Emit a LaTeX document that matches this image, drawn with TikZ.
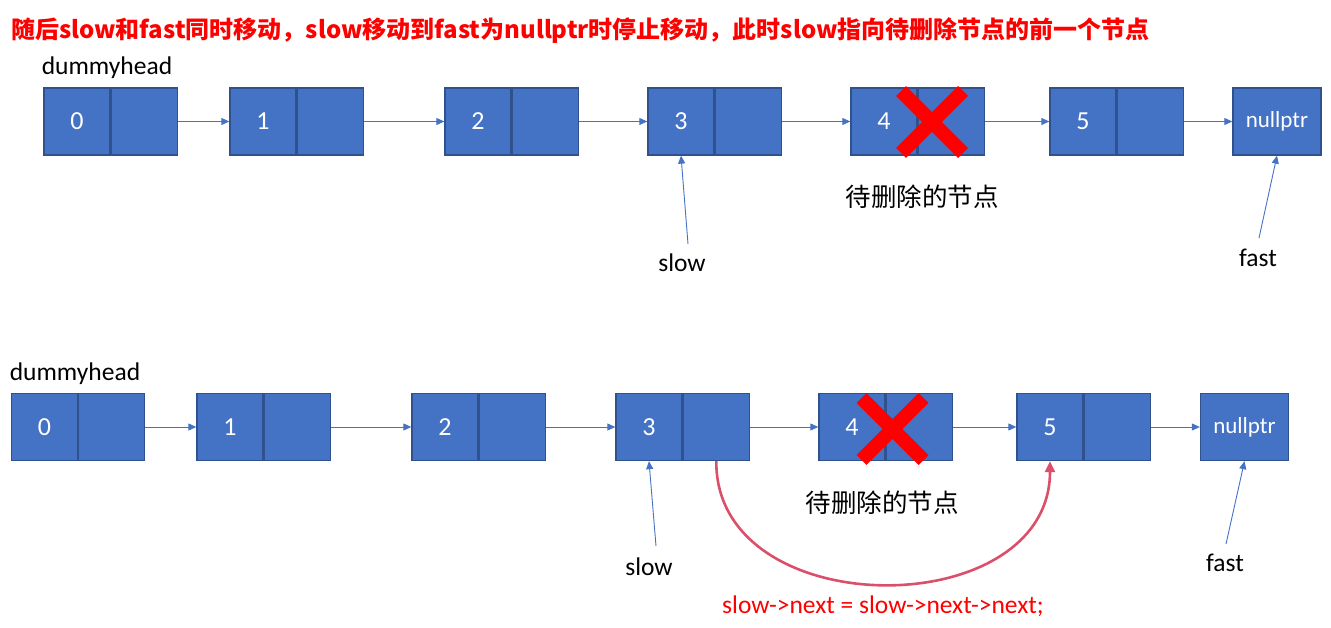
\documentclass[tikz,border=0pt]{standalone}
\usepackage{fontspec}
\setmainfont{Carlito}
\newfontfamily\cjk{Noto Sans CJK SC}
\usetikzlibrary{arrows.meta}
\definecolor{boxfill}{HTML}{4472C4}
\definecolor{boxline}{HTML}{2F528F}
\definecolor{curvered}{HTML}{DC4F6A}
\tikzset{
  cell/.style={draw=boxline, fill=boxfill, line width=1.3pt, minimum width=66pt, minimum height=67pt, inner sep=0pt, text=white, font=\fontsize{26}{30}\selectfont},
  nullbox/.style={cell, minimum width=88pt, font=\fontsize{23}{27}\selectfont},
  arr/.style={draw=boxfill, line width=0.9pt, -{Triangle[length=8pt,width=7pt]}},
  lbl/.style={font=\fontsize{25.5}{30}\selectfont, inner sep=0pt},
  cjklbl/.style={font=\cjk\fontsize{25.5}{30}\selectfont, inner sep=0pt},
  cross/.style={draw=red, line width=14pt},
  redarr/.style={draw=curvered, line width=2.6pt, -{Triangle[length=11pt,width=10pt]}}
}
\begin{document}
\begin{tikzpicture}[x=1pt,y=-1pt]
\useasboundingbox (0,0) rectangle (1331,627);
% title
\node[anchor=west, inner sep=0pt, text=red, font=\cjk\bfseries\fontsize{24}{28}\selectfont] (title) at (11,31)
  {随后slow和fast同时移动，slow移动到fast为nullptr时停止移动，此时slow指向待删除节点的前一个节点};
% ---------- row 1 ----------
\node[lbl] (dh1) at (107,68) {dummyhead};
\foreach \i/\x in {0/77,1/263,2/478,3/681,4/884,5/1083}{
  \node[cell] (a\i) at (\x,121.5) {\i};
  \node[cell, anchor=west] (p\i) at (a\i.east) {};
}
\node[nullbox] (an) at (1277,121.5) {nullptr};
\foreach \i/\j in {0/1,1/2,2/3,3/4,4/5}{
  \draw[arr] (p\i.east) -- (a\j.west);
}
\draw[arr] (p5.east) -- (an.west);
\draw[cross] (901,91) -- (963,153);
\draw[cross] (901,153) -- (963,91);
\node[cjklbl] (del1) at (922,197) {待删除的节点};
\node[lbl] (slow1) at (682,263) {slow};
\coordinate (st1) at (688,244);
\draw[arr] (st1) -- (a3.south);
\node[lbl] (fast1) at (1258,258) {fast};
\coordinate (ft1) at (1259,238);
\draw[arr] (ft1) -- (an.south);
% ---------- row 2 ----------
\node[lbl] (dh2) at (75,374) {dummyhead};
\foreach \i/\x in {0/44.5,1/230,2/445,3/649,4/852,5/1050}{
  \node[cell] (b\i) at (\x,427) {\i};
  \node[cell, anchor=west] (q\i) at (b\i.east) {};
}
\node[nullbox] (bn) at (1244.5,427) {nullptr};
\foreach \i/\j in {0/1,1/2,2/3,3/4,4/5}{
  \draw[arr] (q\i.east) -- (b\j.west);
}
\draw[arr] (q5.east) -- (bn.west);
\draw[cross] (861.5,398) -- (923.5,460);
\draw[cross] (861.5,460) -- (923.5,398);
\node[cjklbl] (del2) at (882,503) {待删除的节点};
\node[lbl] (slow2) at (649,567) {slow};
\coordinate (st2) at (656,546);
\draw[arr] (st2) -- (b3.south);
\node[lbl] (fast2) at (1225,563) {fast};
\coordinate (ft2) at (1226,544);
\draw[arr] (ft2) -- (bn.south);
\draw[redarr] (q3.south) .. controls (715,625) and (1050,625) .. (b5.south);
\node[inner sep=0pt, text=red, font=\fontsize{25.5}{30}\selectfont] (code) at (883,606) {slow->next = slow->next->next;};
\end{tikzpicture}
\end{document}
